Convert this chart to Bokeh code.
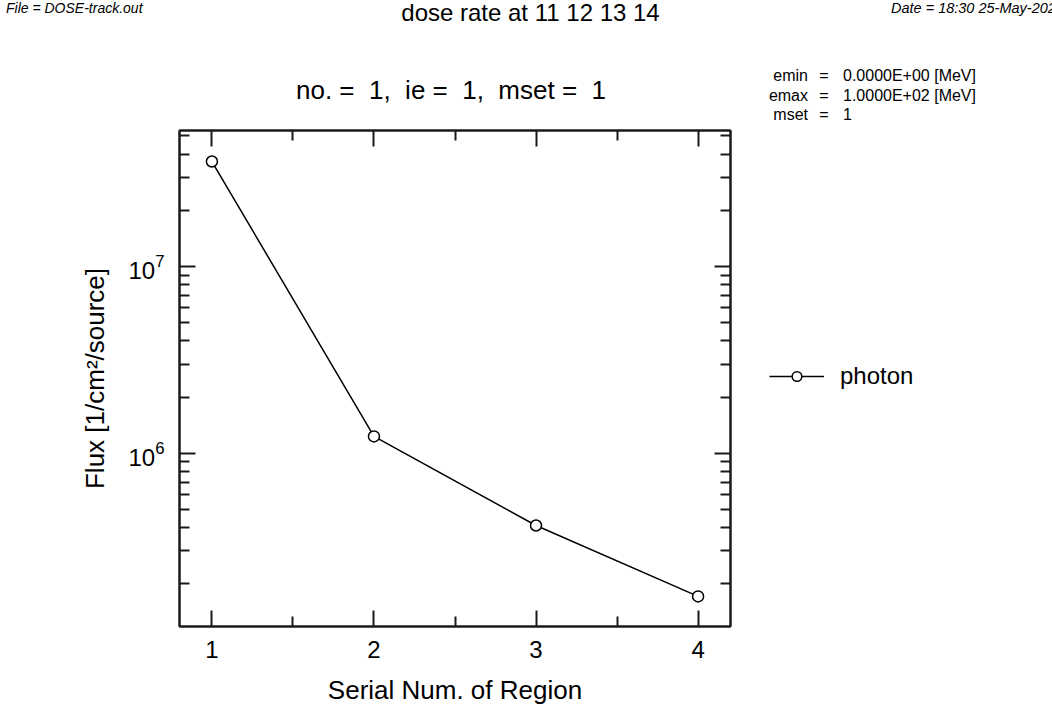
from bokeh.plotting import figure
from bokeh.layouts import column, row
from bokeh.models import (Div, LinearAxis, LogAxis, FixedTicker, LogTickFormatter,
                          CustomJSTickFormatter, Legend, LegendItem, ColumnDataSource, Range1d)
from bokeh.embed import file_html
from bokeh.resources import INLINE

# ---- data ----
regions = [1, 2, 3, 4]
flux = [3.65e7, 1.23e6, 4.10e5, 1.71e5]
series_name = "photon"

x_label = "Serial Num. of Region"
y_label = "Flux [1/cm\u00b2/source]"
page_title = "dose rate at 11 12 13 14"
sub_title = "no. =&nbsp; 1,&nbsp; ie =&nbsp; 1,&nbsp; mset =&nbsp; 1"
file_note = "File = DOSE-track.out"
date_note = "Date = 18:30 25-May-2024"
info_names = ["emin", "emax", "mset"]
info_values = ["0.0000E+00 [MeV]", "1.0000E+02 [MeV]", "1"]

x_major = [1, 2, 3, 4]
x_minor = [1.5, 2.5, 3.5]
y_major = [1e6, 1e7]
y_minor = [m * 10 ** e for e in (5, 6, 7) for m in range(2, 10)]

FONT = "Liberation Sans"
INK = "#1a1a1a"
W, HEAD_H, MAIN_H = 1052, 128, 596
MAIN_W = 740

# ---------------- header (page texts as real HTML text) ----------------
spans = []


def put(text, x, baseline, size, align="left", style="normal"):
    shift = {"left": "0", "center": "-50%", "right": "-100%"}[align]
    top = max(baseline - 0.8465 * size, 0.5)
    spans.append(
        f'<span style="position:absolute;left:{x}px;top:{top:.1f}px;'
        f'font-size:{size}px;line-height:1;font-style:{style};white-space:nowrap;'
        f'transform:translateX({shift});">{text}</span>')


put(file_note, 6, 11, 14, style="italic")
put(page_title, 530.5, 20, 24, align="center")
put(date_note, 891, 11, 14.5, style="italic")
put(sub_title, 451, 99, 26, align="center")
for i, (nm, val) in enumerate(zip(info_names, info_values)):
    by = 81.5 + i * 19.5
    put(nm, 808, by, 16, align="right")
    put("=", 824, by, 16, align="center")
    put(val, 843, by, 16, align="left")

head = Div(text=(f'<div style="position:relative;width:{W}px;height:{HEAD_H}px;'
                 f'overflow:hidden;font-family:\'{FONT}\';color:black;">'
                 + "".join(spans) + "</div>"),
           width=W, height=HEAD_H, margin=0)

# ---------------- main plot ----------------
p = figure(width=MAIN_W, height=MAIN_H, x_range=Range1d(0.8, 4.2),
           y_range=Range1d(1.18e5, 5.35e7), y_axis_type="log",
           output_backend="svg", toolbar_location=None)
p.min_border_left = 179
p.min_border_right = MAIN_W - 730
p.min_border_top = 130 - HEAD_H
p.min_border_bottom = HEAD_H + MAIN_H - 626
p.xgrid.visible = False
p.ygrid.visible = False
p.outline_line_color = INK
p.outline_line_width = 2

LINE_STYLE = dict(line_color="black", line_width=1.5)
MARK_STYLE = dict(size=11, marker="circle", fill_color="white",
                  line_color="black", line_width=1.5)

src = ColumnDataSource(dict(x=regions, y=flux))
p.line("x", "y", source=src, **LINE_STYLE)
p.scatter("x", "y", source=src, **MARK_STYLE)


def style_axis(ax, show_labels):
    ax.axis_line_color = INK
    ax.axis_line_width = 2
    ax.major_tick_line_color = INK
    ax.major_tick_line_width = 2
    ax.minor_tick_line_color = INK
    ax.minor_tick_line_width = 2
    ax.major_tick_in = 16
    ax.major_tick_out = 0
    ax.minor_tick_in = 10
    ax.minor_tick_out = 0
    ax.major_label_text_font = FONT
    ax.major_label_text_font_size = "24px"
    ax.major_label_text_color = "black"
    ax.axis_label_text_font = FONT
    ax.axis_label_text_font_style = "normal"
    ax.axis_label_text_font_size = "26px"
    ax.axis_label_text_color = "black"
    if not show_labels:
        ax.formatter = CustomJSTickFormatter(code="return ''")
        ax.major_label_text_font_size = "0px"
        ax.major_label_standoff = 0


xa = p.xaxis[0]
xa.ticker = FixedTicker(ticks=x_major, minor_ticks=x_minor)
xa.axis_label = x_label
style_axis(xa, True)
xa.major_label_standoff = 14
xa.axis_label_standoff = 14

ya = p.yaxis[0]
ya.ticker = FixedTicker(ticks=y_major, minor_ticks=y_minor)
ya.formatter = LogTickFormatter()
ya.axis_label = y_label
style_axis(ya, True)
ya.major_label_standoff = 15
ya.axis_label_standoff = 15

top = LinearAxis(ticker=FixedTicker(ticks=x_major, minor_ticks=x_minor))
style_axis(top, False)
p.add_layout(top, "above")

right = LogAxis(ticker=FixedTicker(ticks=y_major, minor_ticks=y_minor))
style_axis(right, False)
p.add_layout(right, "right")

# ---------------- legend panel (library legend, beside the plot) ----------------
# The same series is attached here (it falls outside this panel's ranges, so only
# its legend entry shows).
leg = figure(width=W - MAIN_W, height=MAIN_H, x_range=Range1d(-1, 0), y_range=Range1d(-1, 0),
             x_axis_location=None, y_axis_location=None,
             output_backend="svg", toolbar_location=None)
leg.min_border_left = 0
leg.min_border_right = 0
leg.min_border_top = p.min_border_top
leg.min_border_bottom = p.min_border_bottom
leg.outline_line_color = None
leg.grid.visible = False
lg_line = leg.line("x", "y", source=src, **LINE_STYLE)
lg_mark = leg.scatter("x", "y", source=src, **MARK_STYLE)

legend = Legend(items=[LegendItem(label=series_name, renderers=[lg_line, lg_mark])],
                location=(769 - MAIN_W, 626 - 390), orientation="vertical",
                padding=0, margin=0, spacing=0,
                border_line_alpha=0, background_fill_alpha=0,
                glyph_width=55, glyph_height=24, label_height=24,
                label_standoff=16, label_text_font=FONT,
                label_text_font_size="24px", label_text_color="black")
leg.add_layout(legend)

layout = column(head, row(p, leg, spacing=0), spacing=0)
open("out.html", "w").write(file_html(layout, INLINE))
